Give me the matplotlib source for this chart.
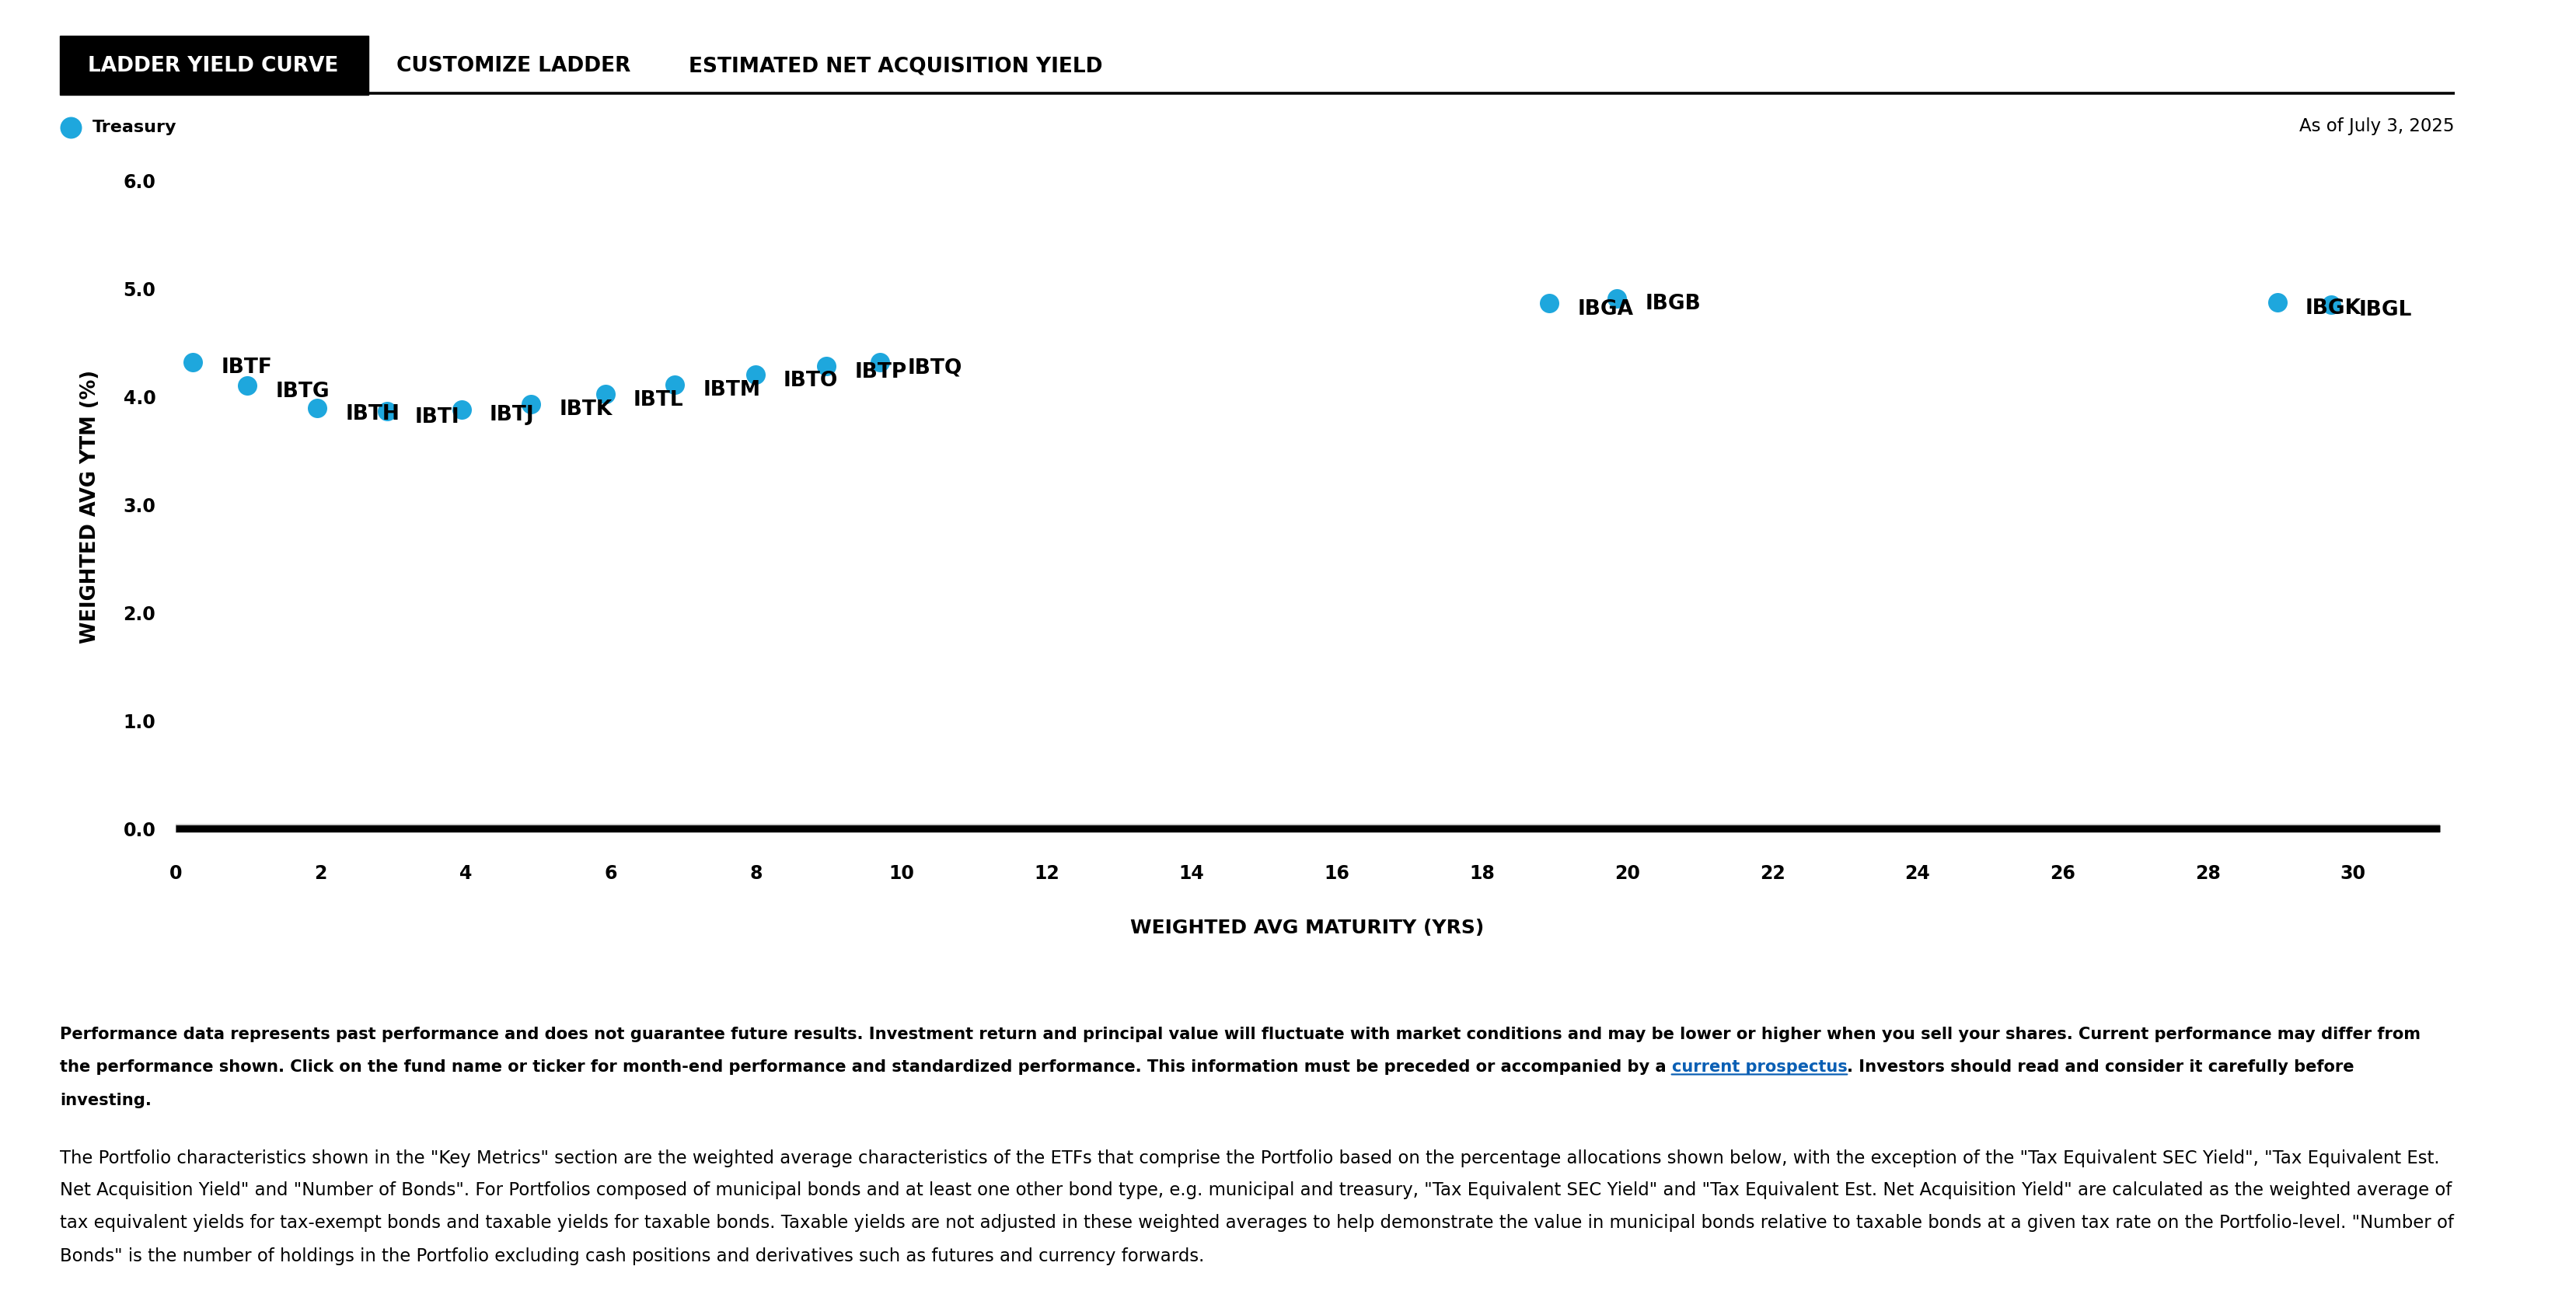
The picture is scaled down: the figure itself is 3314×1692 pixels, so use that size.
import matplotlib
matplotlib.use('Agg')
import matplotlib.pyplot as plt
from matplotlib.patches import Rectangle

# figure size in pixels (dpi 100)
W, H = 3314, 1692
BLUE = '#1ea7dd'
LINK = '#0a5fb4'

# data
tickers = ['IBTF', 'IBTG', 'IBTH', 'IBTI', 'IBTJ', 'IBTK', 'IBTL', 'IBTM',
           'IBTO', 'IBTP', 'IBTQ', 'IBGA', 'IBGB', 'IBGK', 'IBGL']
maturity = [0.24, 0.99, 1.95, 2.91, 3.94, 4.90, 5.92, 6.88,
            7.99, 8.97, 9.70, 18.93, 19.86, 28.96, 29.70]
ytm = [4.32, 4.10, 3.89, 3.86, 3.88, 3.93, 4.02, 4.11,
       4.20, 4.28, 4.32, 4.86, 4.91, 4.87, 4.85]

x_ticks = list(range(0, 31, 2))
y_ticks = [0, 1, 2, 3, 4, 5, 6]
tabs = ['LADDER YIELD CURVE', 'CUSTOMIZE LADDER', 'ESTIMATED NET ACQUISITION YIELD']
series_name = 'Treasury'
as_of = 'As of July 3, 2025'
x_title = 'WEIGHTED AVG MATURITY (YRS)'
y_title = 'WEIGHTED AVG YTM (%)'

bold_lines = [
    'Performance data represents past performance and does not guarantee future results. Investment return and principal value will fluctuate with market conditions and may be lower or higher when you sell your shares. Current performance may differ from',
    'the performance shown. Click on the fund name or ticker for month-end performance and standardized performance. This information must be preceded or accompanied by a',
    'investing.',
]
link_text = 'current prospectus'
after_link = '. Investors should read and consider it carefully before'
regular_lines = [
    'The Portfolio characteristics shown in the "Key Metrics" section are the weighted average characteristics of the ETFs that comprise the Portfolio based on the percentage allocations shown below, with the exception of the "Tax Equivalent SEC Yield", "Tax Equivalent Est.',
    'Net Acquisition Yield" and "Number of Bonds". For Portfolios composed of municipal bonds and at least one other bond type, e.g. municipal and treasury, "Tax Equivalent SEC Yield" and "Tax Equivalent Est. Net Acquisition Yield" are calculated as the weighted average of',
    'tax equivalent yields for tax-exempt bonds and taxable yields for taxable bonds. Taxable yields are not adjusted in these weighted averages to help demonstrate the value in municipal bonds relative to taxable bonds at a given tax rate on the Portfolio-level. "Number of',
    'Bonds" is the number of holdings in the Portfolio excluding cash positions and derivatives such as futures and currency forwards.',
]

plt.rcParams['font.family'] = ['DejaVu Sans']
fig = plt.figure(figsize=(W / 100, H / 100), dpi=100)
fig.patch.set_facecolor('white')

# main scatter axes
ax = fig.add_axes([226 / W, 1 - 1066 / H, (3139 - 226) / W, (1066 - 232) / H])
ax.set_xlim(0, 31.2)
ax.set_ylim(0, 6)
ax.scatter(maturity, ytm, s=324, color=BLUE, linewidths=0, zorder=3)
for name, xv, yv in zip(tickers, maturity, ytm):
    ax.annotate(name, (xv, yv), xytext=(26, -10.5), textcoords='offset points',
                ha='left', va='baseline', fontsize=19, fontweight='bold', zorder=4)

# thick zero line with light grey rim
ax.axhline(0, color='#c4c4c4', lw=8.3, clip_on=False, solid_capstyle='butt', zorder=2)
ax.axhline(0, color='black', lw=6.5, clip_on=False, solid_capstyle='butt', zorder=2)

ax.set_xticks(x_ticks)
ax.set_xticklabels([str(v) for v in x_ticks])
ax.set_yticks(y_ticks)
ax.set_yticklabels(['%.1f' % v for v in y_ticks])
ax.tick_params(length=0, labelsize=17)
ax.tick_params(axis='x', pad=33)
ax.tick_params(axis='y', pad=18.5)
for lbl in ax.get_xticklabels() + ax.get_yticklabels():
    lbl.set_fontweight('bold')
for sp in ax.spines.values():
    sp.set_visible(False)

# overlay in pixel coordinates for the page furniture
ov = fig.add_axes([0, 0, 1, 1])
ov.set_xlim(0, W)
ov.set_ylim(H, 0)
ov.axis('off')
ov.patch.set_visible(False)

ov.add_patch(Rectangle((77, 46), 397, 76, color='black'))
ov.plot([474, 3158], [120.5, 120.5], color='black', lw=2.6, solid_capstyle='butt')
for tab, x0 in zip(tabs, [113, 510, 886]):
    ov.text(x0, 92.3, tab, color='white' if tab == tabs[0] else 'black',
            fontsize=19, fontweight='bold', ha='left', va='baseline')

ov.scatter([91], [164], s=406, color=BLUE, linewidths=0)
ov.text(119, 170, series_name, fontsize=16, fontweight='bold', va='baseline')
ov.text(3157, 169.3, as_of, fontsize=16.5, ha='right', va='baseline')

ov.text(116, 652, y_title, rotation=90, ha='center', va='center',
        fontsize=18.5, fontweight='bold')
ov.text(1682, 1201, x_title, ha='center', va='baseline', fontsize=18, fontweight='bold')

# footnotes
fs_b, fs_r = 14.8, 14.6
bold_base = [1337, 1379, 1422]
reg_base = [1497, 1538, 1580, 1623]
b_texts = [ov.text(77, yb, s, fontsize=fs_b, fontweight='bold', va='baseline')
           for s, yb in zip(bold_lines, bold_base)]
t_link = ov.annotate(link_text, xy=(1, 0), xycoords=b_texts[1], xytext=(5, 0),
                     textcoords='offset points', va='bottom', ha='left',
                     fontsize=fs_b, fontweight='bold', color=LINK)
t_after = ov.annotate(after_link, xy=(1, 0), xycoords=t_link, va='bottom', ha='left',
                      fontsize=fs_b, fontweight='bold')
ov.annotate('', xy=(0, 0.03), xycoords=t_link, xytext=(1, 0.03), textcoords=t_link,
            arrowprops=dict(arrowstyle='-', color=LINK, lw=1.6, shrinkA=0, shrinkB=0))
r_texts = [ov.text(77, yb, s, fontsize=fs_r, va='baseline')
           for s, yb in zip(regular_lines, reg_base)]

# fit the paragraph widths to the page
fig.canvas.draw()
r = fig.canvas.get_renderer()
wb = b_texts[0].get_window_extent(r).width
wr = r_texts[1].get_window_extent(r).width
for t in b_texts + [t_link, t_after]:
    t.set_fontsize(fs_b * 3040 / wb)
for t in r_texts:
    t.set_fontsize(fs_r * 3075 / wr)

fig.savefig('out.png', dpi=100, facecolor='white')
